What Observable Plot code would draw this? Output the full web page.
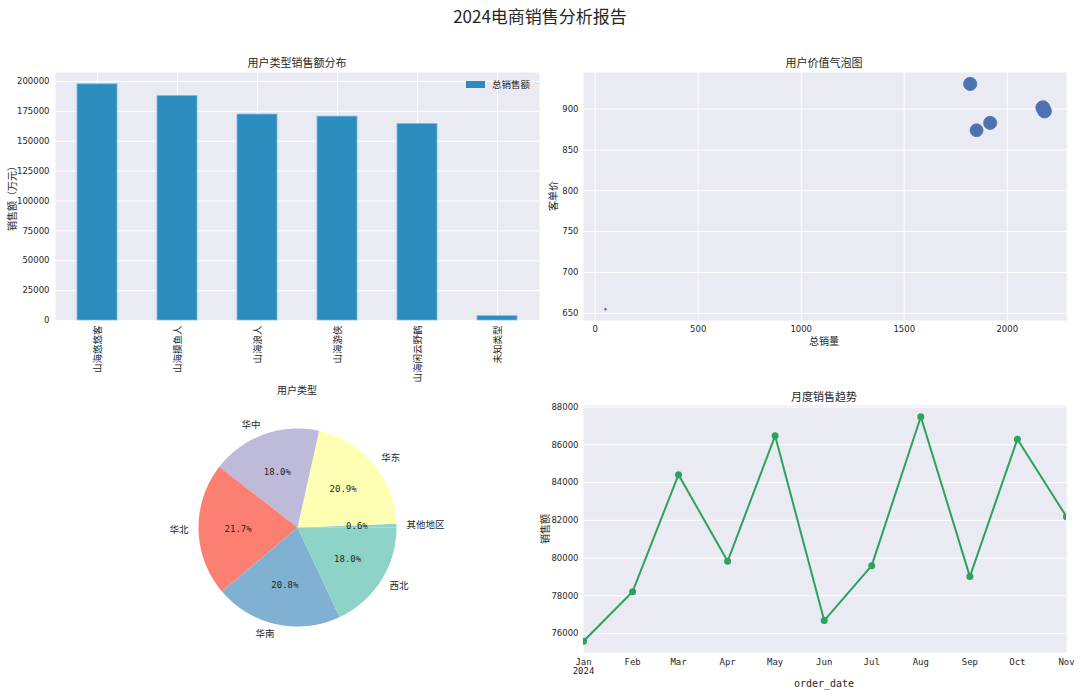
<!DOCTYPE html>
<html><head><meta charset="utf-8">
<script src="https://cdn.jsdelivr.net/npm/d3@7"></script>
<script src="https://cdn.jsdelivr.net/npm/@observablehq/plot@0.6"></script>
<style>
body{margin:0;background:#fff;}
#root{position:relative;width:1080px;height:696px;overflow:hidden;font-family:"Noto Sans CJK SC",sans-serif;color:#262626;}
.t{position:absolute;white-space:nowrap;transform:translate(-50%,-50%);line-height:1;}
.rot{transform:translate(-50%,-50%) rotate(-90deg);}
.p{position:absolute;}
</style></head><body><div id="root"></div>
<script>
// ---- data ----
const userTypes = ["山海悠悠客","山海摸鱼人","山海浪人","山海游侠","山海闲云野鹤","未知类型"];
const userSales = [197600, 187800, 172300, 170600, 164400, 3600];
const userQty = [2173, 2181, 1820, 1917, 1851, 50];
const userPrice = [901.6, 897.5, 930.8, 883.1, 874.1, 655];
const barYTicks = [0,25000,50000,75000,100000,125000,150000,175000,200000];
const bubbleXTicks = [0,500,1000,1500,2000];
const bubbleYTicks = [650,700,750,800,850,900];

const regions = ["其他地区","华东","华中","华北","华南","西北"];
const regionShare = [0.6, 20.9, 18.0, 21.7, 20.8, 18.0];
const regionColors = ["#8DD3C7","#FFFFB3","#BEBADA","#FB8072","#80B1D3","#8DD3C7"];

const months = ["2024-01-01","2024-02-01","2024-03-01","2024-04-01","2024-05-01","2024-06-01","2024-07-01","2024-08-01","2024-09-01","2024-10-01","2024-11-01"];
const monthLabels = ["Jan\n2024","Feb","Mar","Apr","May","Jun","Jul","Aug","Sep","Oct","Nov"];
const monthlySales = [75600, 78220, 84420, 79830, 86480, 76690, 79600, 87490, 79020, 86300, 82190];
const lineYTicks = [76000,78000,80000,82000,84000,86000,88000];

// ---- setup ----
const root = document.getElementById("root");
const CJK = '"Noto Sans CJK SC", sans-serif';
const TICKF = '"DejaVu Sans", "Noto Sans CJK SC", sans-serif';
const MONO = '"DejaVu Sans Mono", "Noto Sans CJK SC", monospace';
const BG = "#EAEAF2";
const style = {fontFamily: TICKF, fontSize: "8.5px", color: "#262626", background: "transparent", overflow: "visible"};

function addText(txt, x, y, size, rot, fam) {
  const d = document.createElement("div");
  d.className = "t" + (rot ? " rot" : "");
  d.style.left = x + "px"; d.style.top = y + "px";
  d.style.fontSize = size + "px";
  if (fam) d.style.fontFamily = fam;
  d.textContent = txt;
  root.appendChild(d);
  return d;
}
function place(svg, left, top) {
  const w = document.createElement("div");
  w.className = "p"; w.style.left = left + "px"; w.style.top = top + "px";
  w.appendChild(svg); root.appendChild(w);
}

// ---- Bar chart ----
const barData = userTypes.map((u, i) => ({type: u, sales: userSales[i]}));
const bar = Plot.plot({
  width: 545, height: 350, marginLeft: 55, marginRight: 6, marginTop: 22, marginBottom: 80,
  style,
  x: {domain: userTypes, paddingInner: 0.5, paddingOuter: 0.25},
  y: {domain: [0, d3.max(userSales) * 1.05]},
  marks: [
    Plot.frame({fill: BG, stroke: null}),
    Plot.gridY(barYTicks, {stroke: "white", strokeOpacity: 1, strokeWidth: 1}),
    Plot.gridX({stroke: "white", strokeOpacity: 1, strokeWidth: 1}),
    Plot.barY(barData, {x: "type", y: "sales", fill: "#2b8cbe", stroke: "#7fb9dd", strokeWidth: 0.8}),
    Plot.axisY({ticks: barYTicks, tickSize: 0, tickPadding: 6, label: null, tickFormat: d => String(d)}),
    Plot.axisX({tickSize: 0, tickPadding: 5, tickRotate: -90, label: null, fontFamily: CJK, fontSize: 9.5})
  ]
});
place(bar, 0, 50);

// ---- Bubble chart ----
const bubbleData = userTypes.map((u, i) => ({type: u, qty: userQty[i], price: userPrice[i], sales: userSales[i]}));
const bubble = Plot.plot({
  width: 535, height: 300, marginLeft: 38, marginRight: 14, marginTop: 22, marginBottom: 30,
  style,
  x: {domain: [-56.5, 2287.5]},
  y: {domain: [641.2, 944.8]},
  r: {domain: [0, d3.max(userSales)], range: [0, 7.1]},
  marks: [
    Plot.frame({fill: BG, stroke: null}),
    Plot.gridX(bubbleXTicks, {stroke: "white", strokeOpacity: 1}),
    Plot.gridY(bubbleYTicks, {stroke: "white", strokeOpacity: 1}),
    Plot.dot(bubbleData, {x: "qty", y: "price", r: "sales", fill: "#4c72b0", stroke: "#4c72b0", strokeWidth: 0.8}),
    Plot.axisX({ticks: bubbleXTicks, tickSize: 0, tickPadding: 5, label: null, tickFormat: d => String(d)}),
    Plot.axisY({ticks: bubbleYTicks, tickSize: 0, tickPadding: 5, label: null, tickFormat: d => String(d)})
  ]
});
place(bubble, 545, 50);

// ---- Pie ----
const R = 99;
const total = d3.sum(regionShare);
const pieRows = [];
const pieLabels = [];
let acc = 0;
regions.forEach((name, i) => {
  const a0 = acc / total * 2 * Math.PI;
  acc += regionShare[i];
  const a1 = acc / total * 2 * Math.PI;
  const n = Math.max(2, Math.ceil((a1 - a0) / 0.01));
  pieRows.push({name, x: 0, y: 0});
  for (let k = 0; k <= n; k++) {
    const a = a0 + (a1 - a0) * k / n;
    pieRows.push({name, x: Math.cos(a), y: Math.sin(a)});
  }
  pieRows.push({name, x: 0, y: 0});
  const am = (a0 + a1) / 2;
  pieLabels.push({name, pct: regionShare[i].toFixed(1) + "%", lx: 1.1 * Math.cos(am), ly: 1.1 * Math.sin(am),
    px: 0.6 * Math.cos(am), py: 0.6 * Math.sin(am), right: Math.cos(am) > 0});
});
const pie = Plot.plot({
  width: 300, height: 240, margin: 0,
  style: {...style, fontFamily: CJK},
  x: {domain: [-150 / R, 150 / R], axis: null},
  y: {domain: [-120 / R, 120 / R], axis: null},
  color: {domain: regions, range: regionColors},
  marks: [
    Plot.line(pieRows, {x: "x", y: "y", z: "name", fill: "name", stroke: "none"}),
    Plot.text(pieLabels.filter(d => d.right), {x: "lx", y: "ly", text: "name", textAnchor: "start", fontSize: 9.5, fill: "#262626"}),
    Plot.text(pieLabels.filter(d => !d.right), {x: "lx", y: "ly", text: "name", textAnchor: "end", fontSize: 9.5, fill: "#262626"}),
    Plot.text(pieLabels, {x: "px", y: "py", text: "pct", fontSize: 9, fontFamily: MONO, fill: "#262626"})
  ]
});
place(pie, 297 - 150, 527 - 120);

// ---- Line chart ----
const monthDates = months.map(m => new Date(m));
const lineData = monthDates.map((d, i) => ({date: d, sales: monthlySales[i]}));
const line = Plot.plot({
  width: 535, height: 300, marginLeft: 38, marginRight: 14, marginTop: 20, marginBottom: 33,
  style,
  x: {type: "utc", domain: [monthDates[0], monthDates[monthDates.length - 1]]},
  y: {domain: [75000, 88083]},
  marks: [
    Plot.frame({fill: BG, stroke: null}),
    Plot.gridY(lineYTicks, {stroke: "white", strokeOpacity: 1}),
    Plot.line(lineData, {x: "date", y: "sales", stroke: "#2ca25f", strokeWidth: 2, clip: true}),
    Plot.dot(lineData, {x: "date", y: "sales", fill: "#2ca25f", r: 3.5, clip: true}),
    Plot.axisY({ticks: lineYTicks, tickSize: 0, tickPadding: 5, label: null, tickFormat: d => String(d)}),
    Plot.axisX({ticks: monthDates, tickSize: 0, tickPadding: 6, label: null, fontFamily: MONO, fontSize: 9,
      tickFormat: (d, i) => monthLabels[monthDates.findIndex(m => +m === +d)]})
  ]
});
place(line, 545, 385);

// ---- Titles & axis labels ----
addText("2024电商销售分析报告", 540, 15, 17);
addText("用户类型销售额分布", 297, 62, 11);
addText("销售额（万元）", 12, 196, 10, true);
addText("用户类型", 297, 390, 10);
addText("用户价值气泡图", 824, 62, 11);
addText("客单价", 553, 196, 10, true);
addText("总销量", 824, 341, 10);
addText("月度销售趋势", 824, 396, 11);
addText("销售额", 545, 529, 10, true);
addText("order_date", 824, 684, 10, false, MONO);

// legend
const lg = document.createElement("div");
lg.className = "p"; lg.style.left = "466px"; lg.style.top = "80px";
lg.style.display = "flex"; lg.style.alignItems = "center"; lg.style.fontSize = "9.5px";
const sw = document.createElement("span");
sw.style.display = "inline-block"; sw.style.width = "19px"; sw.style.height = "7px"; sw.style.background = "#2b8cbe"; sw.style.marginRight = "7px";
const lt = document.createElement("span"); lt.textContent = "总销售额"; lt.style.lineHeight = "1";
lg.appendChild(sw); lg.appendChild(lt); root.appendChild(lg);
</script></body></html>
